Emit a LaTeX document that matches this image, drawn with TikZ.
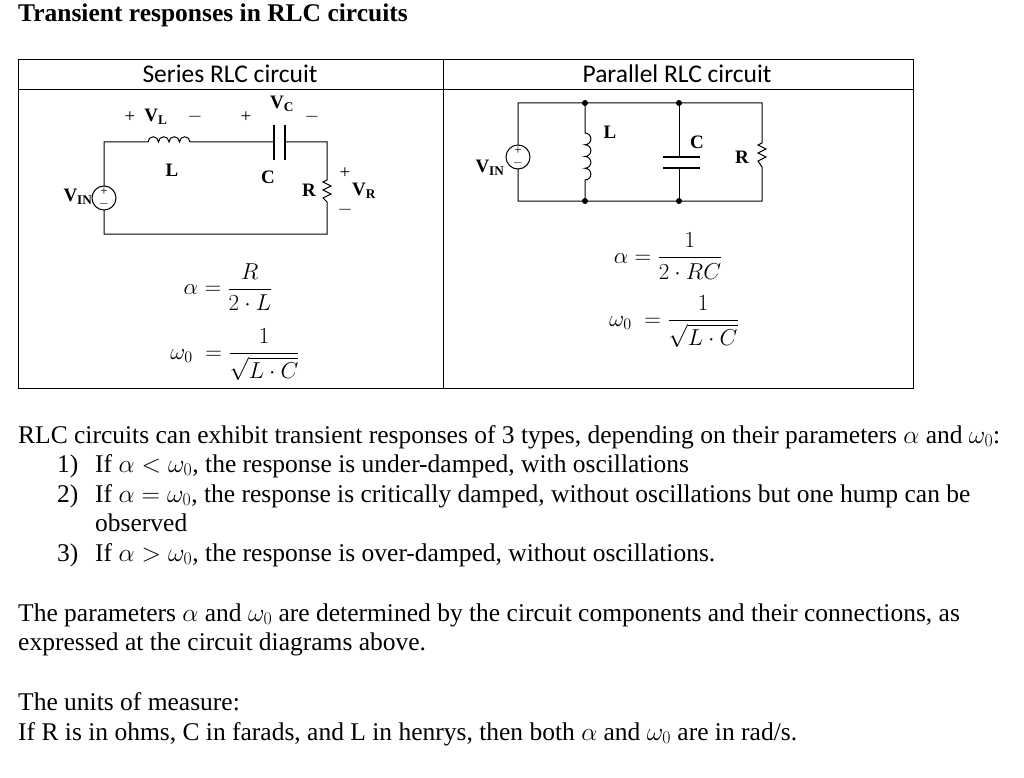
\RequirePackage{fix-cm}
\documentclass[tikz,border=0pt]{standalone}
\usepackage{amsmath}
\usepackage{fontspec}
\setmainfont{Liberation Serif}
\newfontfamily\hdr{Carlito}
\begin{document}
\begin{tikzpicture}[x=1pt,y=1pt,
  body/.style={anchor=base west,inner sep=0pt,font=\fontsize{25.5}{30}\selectfont},
  lab/.style={inner sep=0pt,font=\fontsize{19}{22}\selectfont\bfseries},
  sgn/.style={inner sep=0pt,font=\fontsize{19}{22}\selectfont},
  eq/.style={inner sep=0pt,font=\fontsize{23}{26}\selectfont},
  wire/.style={line width=1pt},
  dotc/.style={circle,fill,inner sep=0pt,minimum size=6pt}]
\useasboundingbox (0,0) rectangle (1024,-778);
\node[anchor=base west,inner sep=0pt,font=\fontsize{25.5}{30}\selectfont\bfseries] (title) at (18,-22) {Transient responses in RLC circuits};
% table
\draw[line width=0.8pt] (18,-59) rectangle (913,-388);
\draw[line width=0.8pt] (18,-89) -- (913,-89) (443,-59) -- (443,-388);
\node[font=\hdr\fontsize{25.5}{30}\selectfont] (h1) at (230,-74) {Series RLC circuit};
\node[font=\hdr\fontsize{25.5}{30}\selectfont] (h2) at (677,-74) {Parallel RLC circuit};
% series circuit
\draw[wire] (104,-186) -- (104,-142) -- (148,-142)
  arc[start angle=180,end angle=0,radius=5.25] arc[start angle=180,end angle=0,radius=5.25]
  arc[start angle=180,end angle=0,radius=5.25] arc[start angle=180,end angle=0,radius=5.25]
  -- (274,-142);
\draw[line width=2pt] (274,-125) -- (274,-160) (285,-125) -- (285,-160);
\draw[wire] (285,-142) -- (327,-142) -- (327,-180) -- (323,-182) -- (331,-186) -- (323,-190) -- (331,-194) -- (323,-198) -- (327,-202) -- (327,-234) -- (104,-234) -- (104,-210);
\draw[wire] (104,-198) circle (12);
\node[font=\fontsize{13}{14}\selectfont] (sp1) at (104,-192) {+};
\node[font=\fontsize{13}{14}\selectfont] (sm1) at (104,-204) {$-$};
\node[lab] (vin1) at (78,-197) {V\textsubscript{IN}};
\node[sgn] (p1) at (130,-117) {+};
\node[lab] (vl) at (156,-117) {V\textsubscript{L}};
\node[sgn] (m1) at (195,-117) {$-$};
\node[sgn] (p2) at (246,-117) {+};
\node[lab] (vc) at (282,-104) {V\textsubscript{C}};
\node[sgn] (m2) at (312,-117) {$-$};
\node[lab] (l1) at (172,-170) {L};
\node[lab] (c1) at (268,-177) {C};
\node[lab] (r1) at (309,-190) {R};
\node[sgn] (p3) at (345,-173) {+};
\node[lab] (vr) at (364,-191) {V\textsubscript{R}};
\node[sgn] (m3) at (345,-210) {$-$};
% parallel circuit
\draw[wire] (518,-145) -- (518,-103) -- (762,-103) -- (762,-143) -- (758,-145) -- (766,-149) -- (758,-153) -- (766,-157) -- (758,-161) -- (762,-167) -- (762,-201) -- (518,-201) -- (518,-169);
\draw[wire] (518,-157) circle (12);
\node[font=\fontsize{13}{14}\selectfont] (sp2) at (518,-151) {+};
\node[font=\fontsize{13}{14}\selectfont] (sm2) at (518,-163) {$-$};
\node[lab] (vin2) at (490,-168) {V\textsubscript{IN}};
\draw[wire] (585,-103) -- (585,-133)
  arc[start angle=90,end angle=-90,radius=5.875] arc[start angle=90,end angle=-90,radius=5.875]
  arc[start angle=90,end angle=-90,radius=5.875] arc[start angle=90,end angle=-90,radius=5.875]
  -- (585,-201);
\draw[wire] (679,-103) -- (679,-157) (679,-168) -- (679,-201);
\draw[line width=2.2pt] (663,-157) -- (700,-157) (663,-168) -- (700,-168);
\node[dotc] (d1) at (585,-103) {}; \node[dotc] (d2) at (679,-103) {};
\node[dotc] (d3) at (585,-201) {}; \node[dotc] (d4) at (679,-201) {};
\node[lab] (l2) at (610,-132) {L};
\node[lab] (c2) at (697,-142) {C};
\node[lab] (r2) at (742,-157) {R};
% formulas
\node[eq] (a1) at (228,-287) {$\alpha=\dfrac{R}{2\cdot L}$};
\node[eq] (w1) at (235,-355) {$\omega_0\;=\dfrac{1}{\sqrt{L\cdot C}}$};
\node[eq] (a2) at (668,-256) {$\alpha=\dfrac{1}{2\cdot RC}$};
\node[eq] (w2) at (674,-322) {$\omega_0\;=\dfrac{1}{\sqrt{L\cdot C}}$};
% body text
\node[body] (t1) at (18,-443) {RLC circuits can exhibit transient responses of 3 types, depending on their parameters $\alpha$ and $\omega_0$:};
\node[body] (n1) at (57,-472) {1)}; \node[body] (t2) at (95,-472) {If $\alpha<\omega_0$, the response is under-damped, with oscillations};
\node[body] (n2) at (57,-502) {2)}; \node[body] (t3) at (95,-502) {If $\alpha=\omega_0$, the response is critically damped, without oscillations but one hump can be};
\node[body] (t4) at (95,-531) {observed};
\node[body] (n3) at (57,-561) {3)}; \node[body] (t5) at (95,-561) {If $\alpha>\omega_0$, the response is over-damped, without oscillations.};
\node[body] (t6) at (18,-621) {The parameters $\alpha$ and $\omega_0$ are determined by the circuit components and their connections, as};
\node[body] (t7) at (18,-650) {expressed at the circuit diagrams above.};
\node[body] (t8) at (18,-710) {The units of measure:};
\node[body] (t9) at (18,-740) {If R is in ohms, C in farads, and L in henrys, then both $\alpha$ and $\omega_0$ are in rad/s.};
\end{tikzpicture}
\end{document}
